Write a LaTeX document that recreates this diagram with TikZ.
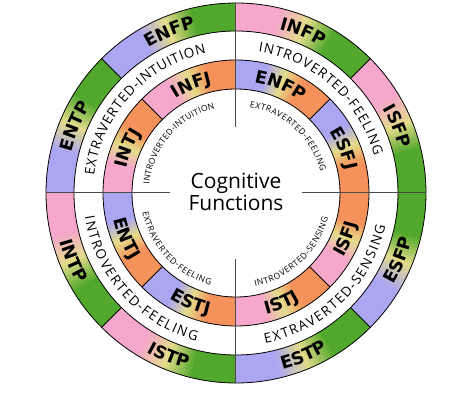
\documentclass[tikz,border=0pt]{standalone}
\usepackage{fontspec}
\setmainfont{Open Sans}
\newfontfamily\lblfam{DejaVu Sans}
\usetikzlibrary{decorations.text}
\definecolor{pkc}{HTML}{F5A8CB}
\definecolor{grc}{HTML}{52A82C}
\definecolor{puc}{HTML}{ABA6F2}
\definecolor{orc}{HTML}{F5915A}
\definecolor{yec}{HTML}{E4DC8C}
\definecolor{axisc}{HTML}{4A4A4A}
\newcommand\lblfont{\lblfam\fontsize{17.5}{17.5}\selectfont\bfseries}
\newcommand\bandfont{\fontsize{13.5}{13.5}\selectfont}
\newcommand\smallfont{\fontsize{8.5}{8.5}\selectfont}
% gradient ring segment: r-in, r-out, start angle, end angle, colour at start, middle colour, colour at end
\newcommand\gseg[7]{%
\foreach \k in {0,...,44}{%
 \pgfmathsetmacro\angA{#3+(#4-#3)*\k/45}%
 \pgfmathsetmacro\angB{#3+(#4-#3)*min(\k+1.4,45)/45}%
 \pgfmathsetmacro\gpos{(\k+0.5)/45}%
 \pgfmathtruncatemacro\pp{max(0,min(100,(\gpos-0.3)*500))}%
 \pgfmathtruncatemacro\qq{max(0,min(100,(\gpos-0.5)*500))}%
 \ifnum\qq>0 \colorlet{segc}{#7!\qq!#6}\else\colorlet{segc}{#6!\pp!#5}\fi
 \fill[fill=segc] (\angA:#1pt) arc[start angle=\angA,end angle=\angB,radius=#1pt] -- (\angB:#2pt) arc[start angle=\angB,end angle=\angA,radius=#2pt] -- cycle;
}}
% text on arc: radius, start, end, align, text
\newcommand\arctext[5]{%
 \path[decorate,decoration={text along path,text align={#4},text={#5}}] (#2:#1pt) arc[start angle=#2,end angle=#3,radius=#1pt];}
\tikzset{
 ringedge/.style={draw=black,line width=0.8pt},
 segdiv/.style={draw=black,line width=0.8pt},
 axisline/.style={draw=axisc,line width=1pt},
}
\begin{document}
\begin{tikzpicture}
\useasboundingbox (-236pt,-208pt) rectangle (238pt,193pt);
% outer ring
\gseg{162}{190}{90}{45}{pkc}{yec}{grc}
\gseg{162}{190}{45}{0}{pkc}{yec}{grc}
\gseg{162}{190}{0}{-45}{grc}{yec}{puc}
\gseg{162}{190}{-45}{-90}{grc}{yec}{puc}
\gseg{162}{190}{-90}{-135}{grc}{yec}{pkc}
\gseg{162}{190}{-135}{-180}{grc}{yec}{pkc}
\gseg{162}{190}{180}{135}{puc}{yec}{grc}
\gseg{162}{190}{135}{90}{puc}{yec}{grc}
% inner ring
\gseg{104}{133}{90}{45}{puc}{yec}{orc}
\gseg{104}{133}{45}{0}{puc}{yec}{orc}
\gseg{104}{133}{0}{-45}{orc}{yec}{pkc}
\gseg{104}{133}{-45}{-90}{orc}{yec}{pkc}
\gseg{104}{133}{-90}{-135}{orc}{yec}{puc}
\gseg{104}{133}{-135}{-180}{orc}{yec}{puc}
\gseg{104}{133}{180}{135}{pkc}{yec}{orc}
\gseg{104}{133}{135}{90}{pkc}{yec}{orc}
% ring edges
\path[ringedge] (0,0) circle[radius=190pt];
\path[ringedge] (0,0) circle[radius=162pt];
\path[ringedge] (0,0) circle[radius=133pt];
\path[ringedge] (0,0) circle[radius=104pt];
% segment dividers
\foreach \a in {45,135,225,315}{
 \path[segdiv] (\a:162pt) -- (\a:190pt);
 \path[segdiv] (\a:104pt) -- (\a:133pt);
}
% axis lines
\path[axisline] (0,66pt) -- (0,190pt);
\path[axisline] (0,-66pt) -- (0,-190pt);
\path[axisline] (66pt,0) -- (190pt,0);
\path[axisline] (-66pt,0) -- (-190pt,0);
% outer labels
\arctext{169.5}{90}{45}{center}{|\lblfont|INFP}
\arctext{169.5}{45}{0}{center}{|\lblfont|ISFP}
\arctext{169.5}{180}{135}{center}{|\lblfont|ENTP}
\arctext{169.5}{135}{90}{center}{|\lblfont|ENFP}
\arctext{182.5}{-45}{0}{center}{|\lblfont|ESFP}
\arctext{182.5}{-90}{-45}{center}{|\lblfont|ESTP}
\arctext{182.5}{-135}{-90}{center}{|\lblfont|ISTP}
\arctext{182.5}{180}{225}{center}{|\lblfont|INTP}
% inner labels
\arctext{112}{90}{45}{center}{|\lblfont|ENFP}
\arctext{112}{45}{0}{center}{|\lblfont|ESFJ}
\arctext{112}{180}{135}{center}{|\lblfont|INTJ}
\arctext{112}{135}{90}{center}{|\lblfont|INFJ}
\arctext{125}{-45}{0}{center}{|\lblfont|ISFJ}
\arctext{125}{-90}{-45}{center}{|\lblfont|ISTJ}
\arctext{125}{-135}{-90}{center}{|\lblfont|ESTJ}
\arctext{125}{180}{225}{center}{|\lblfont|ENTJ}
% band texts
\arctext{143}{173}{102}{fit to path}{|\bandfont|EXTRAVERTED-INTUITION}
\arctext{143}{81}{15}{fit to path}{|\bandfont|INTROVERTED-FEELING}
\arctext{153}{189}{255}{fit to path}{|\bandfont|INTROVERTED-FEELING}
\arctext{153}{281}{347.5}{fit to path}{|\bandfont|EXTRAVERTED-SENSING}
% small inner texts
\arctext{87}{174.5}{104}{fit to path}{|\smallfont|INTROVERTED-INTUITION}
\arctext{87}{81}{14}{fit to path}{|\smallfont|EXTRAVERTED-FEELING}
\arctext{95.5}{191.5}{254.5}{fit to path}{|\smallfont|EXTRAVERTED-FEELING}
\arctext{95.5}{281.5}{345}{fit to path}{|\smallfont|INTROVERTED-SENSING}
% centre
\node[font=\fontsize{21}{20}\selectfont,align=center,inner sep=0pt] (cf) at (0,1pt) {Cognitive\\Functions};
\end{tikzpicture}
\end{document}
